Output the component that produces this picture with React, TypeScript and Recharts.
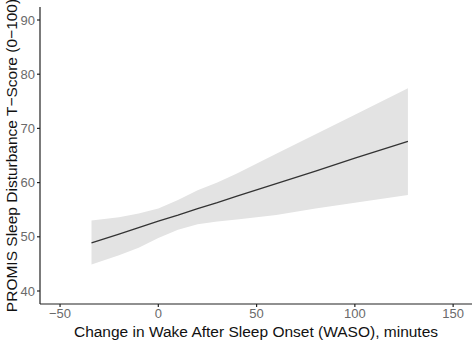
import { ComposedChart, Area, Line, XAxis, YAxis } from 'recharts';

const xValues = [-34, -20, -10, 0, 10, 20, 30, 40, 60, 80, 100, 127];
const fitValues = [48.9, 50.5, 51.7, 52.9, 54.0, 55.2, 56.3, 57.5, 59.8, 62.1, 64.5, 67.6];
const lowerValues = [44.9, 46.6, 48.0, 49.8, 51.3, 52.3, 52.8, 53.2, 54.0, 55.2, 56.3, 57.7];
const upperValues = [53.0, 53.6, 54.3, 55.2, 56.8, 58.6, 60.0, 61.7, 65.3, 68.9, 72.5, 77.4];
const xTicks = [-50, 0, 50, 100, 150];
const yTicks = [40, 50, 60, 70, 80, 90];

const data = xValues.map((x, i) => ({
  x,
  fit: fitValues[i],
  band: [lowerValues[i], upperValues[i]],
}));

const font = '"Liberation Sans", Arial, Helvetica, sans-serif';

export default function App() {
  return (
    <div style={{ position: 'absolute', left: 0, top: 0, background: '#fff', fontFamily: font }}>
      <ComposedChart
        width={474}
        height={343}
        data={data}
        margin={{ top: 7, right: 2, bottom: 0, left: 0 }}
      >
        <XAxis
          dataKey="x"
          type="number"
          domain={[-60.2, 159.6]}
          ticks={xTicks}
          allowDataOverflow
          height={39}
          stroke="#222"
          strokeWidth={1.2}
          tickSize={3}
          tickMargin={2}
          tick={{ fill: '#6a6a6a', fontSize: 13, fontFamily: font }}
          tickFormatter={(v: number) => (v < 0 ? '\u2212' + Math.abs(v) : String(v))}
          label={{
            value: 'Change in Wake After Sleep Onset (WASO), minutes',
            position: 'insideBottom',
            offset: 6,
            fill: '#111',
            fontSize: 15.5,
            fontFamily: font,
          }}
        />
        <YAxis
          type="number"
          domain={[37.6, 92.4]}
          ticks={yTicks}
          allowDataOverflow
          width={40}
          stroke="#222"
          strokeWidth={1.2}
          tickSize={3}
          tickMargin={2}
          tick={{ fill: '#6a6a6a', fontSize: 13, fontFamily: font }}
          label={{
            value: 'PROMIS Sleep Disturbance T\u2212Score (0\u2212100)',
            angle: -90,
            position: 'insideLeft',
            offset: 0,
            dx: 11,
            style: { textAnchor: 'middle' },
            fill: '#111',
            fontSize: 15.5,
            fontFamily: font,
          }}
        />
        <Area
          type="linear"
          dataKey="band"
          stroke="none"
          fill="#e3e3e3"
          fillOpacity={1}
          isAnimationActive={false}
        />
        <Line
          type="linear"
          dataKey="fit"
          stroke="#333"
          strokeWidth={1.3}
          dot={false}
          isAnimationActive={false}
        />
      </ComposedChart>
    </div>
  );
}
